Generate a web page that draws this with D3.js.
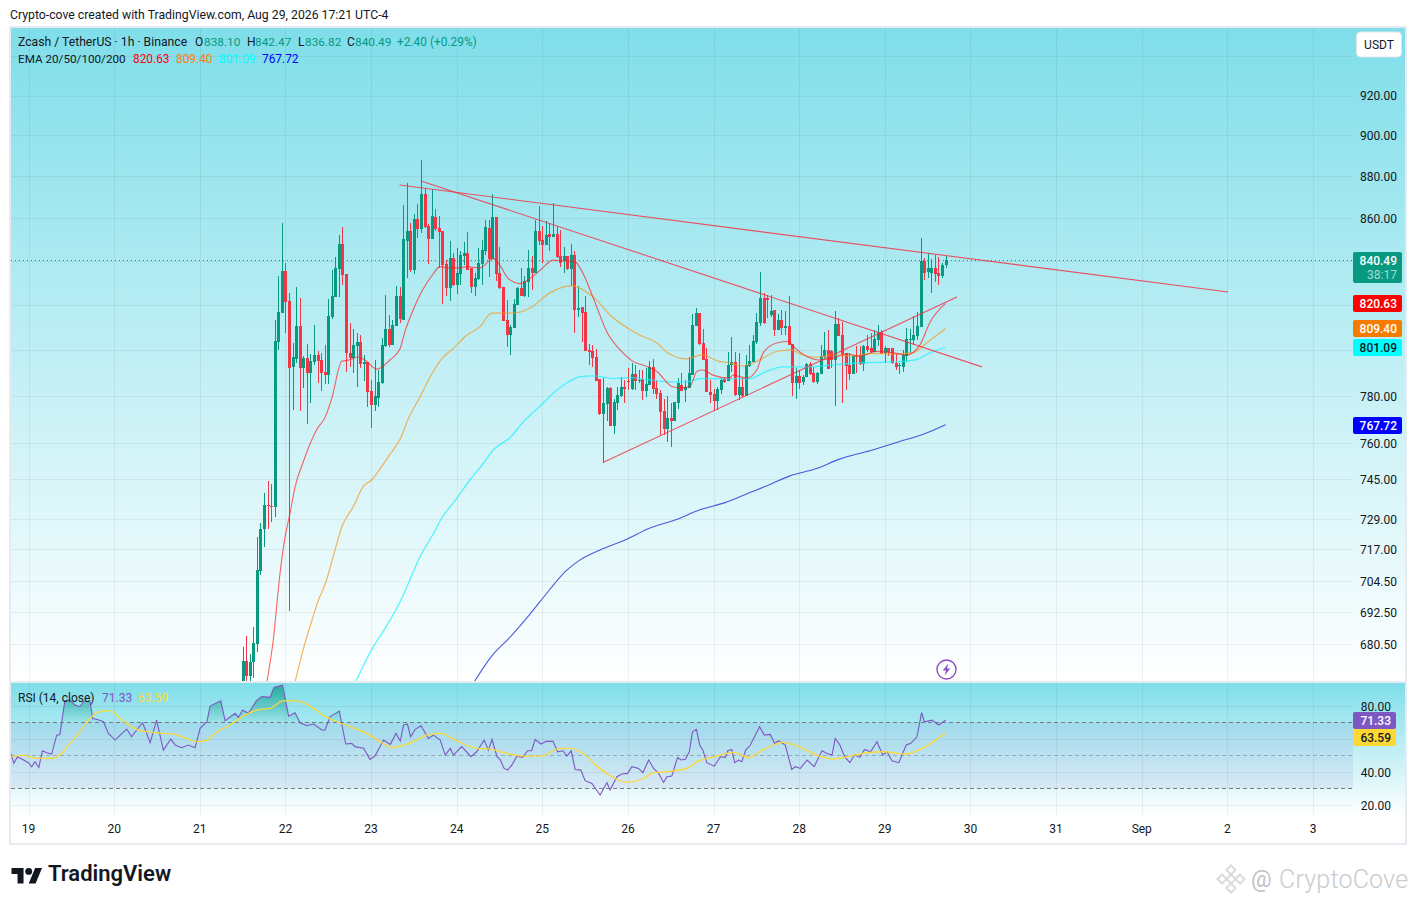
<!DOCTYPE html>
<html><head><meta charset="utf-8">
<script src="https://cdn.jsdelivr.net/npm/d3@7"></script>
<style>
html,body{margin:0;padding:0;background:#fff;overflow:hidden}
svg{display:block}
text{font-family:"Roboto","Noto Sans",sans-serif;fill:#131722}
.axis path{display:none}.axis line{display:none}
.axis text{font-size:12px;fill:#131722}
</style></head><body>
<div id="chart"></div>
<script>
// ---------- data ----------
const firstHour = 60; // hours after Aug 19 00:00 of the first visible candle
const opens = [660,674.3,668.5,673.8,680.6,708.5,724.8,734.6,734.2,733.9,803.6,816.4,835.5,821.7,792.5,796,810.5,792,796.4,789.9,794.6,797.7,795.5,790.3,789.1,814.5,823.5,836.4,848,834.1,798.6,796.4,801.6,803.4,793.8,794.6,782,776.1,779,785.5,801.6,809.2,802.1,810.5,824,813.2,849.4,854.1,835.9,859.7,855,871.6,856.4,850.3,860.6,855.5,854.1,838.7,827.6,841.4,829,834.1,842.4,843.8,836.8,828.1,831.8,838.7,844.7,855.5,841,860.6,834.4,828.1,813.2,806.5,809.7,819.9,827.6,824,830.4,836.8,834.5,854.1,849.9,847.5,852.7,851.3,852.7,842.4,840,842.4,836.4,842.8,817.6,818.8,816.7,799.9,799.4,796.8,787.2,772.3,776.5,783.3,767.3,776.9,779.8,783.7,786.5,782.9,789.4,786.5,787.2,782,784.6,792.5,783.3,781,773.5,766,770.6,769.4,776.9,784.6,782.4,783.3,789,810.5,816.3,803,795.9,781.5,780.6,777.7,782.4,787.1,786.3,793.3,794.5,780.2,783.7,780,792.9,794.6,803.4,811.9,823.1,823.1,815.4,817.6,808.8,813.2,809.6,810.5,802.4,785.6,788.5,785.9,788.3,793.6,789.9,785.9,789.4,796.8,799.9,799.6,795.5,811.4,806.5,798.6,793.3,789.4,797.2,797.2,793.8,801.6,800.7,799,804.3,807.8,798.6,800.7,800.7,794.2,792.9,792.5,797.2,804.3,804.3,806.1,810,840,834.7,834.5,836.8,834.5,833.2,838.1];
const highs = [679.5,683.5,676.6,687,721.9,727.2,739.3,744.1,743.2,813.2,833.2,857.7,839,825.2,802.8,828,822.9,797.2,802.4,798,810.8,799.4,798.4,802.1,822.6,835.9,842,852.2,855.8,834.1,811.7,809.2,807.3,806.5,797.7,794.6,786.8,795.5,791,805.2,824.4,815.4,813.2,828.6,828.1,866.3,876.7,857.7,861.9,866.8,887.8,874.3,857.3,874,864.4,860.8,854.1,840.5,849.4,843.6,846,844.7,848.9,853.6,836.8,834.4,846.1,849.9,859.2,859.2,871.6,860.6,846.6,828.1,822.1,811,822.6,828,836.7,832.9,845.2,842.4,859.2,865.9,856.1,858.9,857.7,867.2,856.1,854.5,846.7,842.4,847.8,844.7,828.3,818.8,824,802.5,802.1,800.1,787.2,787.8,783.9,783.9,778.8,783.9,788.2,787,791.8,794,793.3,791.1,791.1,791.8,795.1,795.9,786.8,782.4,778.5,779.8,776.7,777.3,787.8,789.8,786.8,796.9,815.9,818.5,816.3,809.2,800.7,786.8,782.9,783.9,787.5,788.3,798.8,805.5,799.1,798.4,787.5,797.7,802.1,806.5,816.3,834.7,825.2,824.4,824.4,817.6,815.9,817.6,817.2,824,802.4,791.9,791.2,789,794.1,794.8,792.6,790.4,802.1,808,808.8,799.9,817.2,813.9,812.2,798.6,798.4,797.7,801.6,801.6,802.1,806.5,807.2,808.8,811,808.8,801.6,800.7,800.7,798.1,794.1,799.9,809.6,809.3,815,816.9,850.8,841.4,843.6,841,842.8,842,839,842.47];
const lows = [655,664,666,668,677.5,706.8,717.9,724.8,727.8,729.8,799.9,816.2,807.3,693,774,794,773.7,783.3,767.8,777.1,793.3,785.4,782,785.1,785.1,813.6,823.5,823.7,829,790.3,792.6,789.7,783.8,792,786.4,775.3,766.1,773.6,775.3,785.1,801.3,801,802.1,810.5,811.7,813.2,832.2,835,834.1,850.8,853,855.3,838.7,850.3,854.1,836.8,820.3,824,821.7,828.3,824.9,829,838.2,835.9,825.4,824,831.3,829,842.8,832.5,841,830.9,827.2,812.7,801.4,797.7,809.7,819.9,824,823.7,823.4,826.7,834.4,847.5,839,847.5,844.7,851.3,841.3,837.1,834.4,835.9,828.6,807.3,814.7,803.6,799.4,793.3,792.6,786.4,771.9,751.6,769.1,767.3,763.6,774,779.5,776.7,782.4,782.4,782.4,785.3,778.1,779.5,784.6,780.9,778.8,763.3,763.3,760.5,758.2,769.4,774.4,782,777.2,783.3,789,810.5,802.1,795.7,781.5,776.7,773.3,774,780.6,785.6,786.2,790.4,779.8,778.1,779.5,780,792.6,794.5,802.5,810.5,811.3,814,814.7,806.1,808.8,806.5,806.5,802.1,780,778.8,782.8,784.6,788.3,789,785.3,785,789.4,796.4,791.6,791.9,775.6,806.1,777,782.4,786.7,789.4,789.7,793.3,790.7,799.1,798.7,799,801.6,798.1,794.1,797.2,793.8,791.2,789.4,790.3,794.6,798.7,802.1,804.3,810,831.3,832.2,825.4,830.4,829,832.2,836.82];
const closes = [674,668.5,673.9,680.7,708.8,724.9,734.6,734.2,733.8,803.8,816.6,835.5,821.2,792.2,796.8,810.5,792,796.4,789.9,795,797.7,795,789.9,789,815,824,836.8,848,833.6,798.6,796.4,802.1,803.4,793.8,794.6,781.6,776.1,779.9,785.9,802.1,809.2,802.1,811,824,813.6,850.3,854.1,835.9,859.7,855,871.6,855.9,850.3,861.1,855,853.6,838.2,827.6,841.4,829,834.5,842.8,843.8,835.9,828.1,832.2,839.1,845.2,855.9,841,860.6,834,827.6,812.7,806.5,810.1,820.3,827.6,824,830.9,836.8,834.5,854.1,849.4,847.5,852.2,851.3,852.7,841.9,839.1,842.4,836.4,842.8,817.6,818.5,816.3,799.4,799,796.4,786.4,772.3,776.9,783.3,767.3,777.3,780.2,783.7,782.9,786,789.4,786.5,786.8,782,785,792.5,782.9,780.6,773.1,766,770.6,769.4,777.3,785.4,782,783.7,789.8,811,816.3,802.5,795.7,781.5,780.2,777.7,782.9,786.8,786,793.3,794.5,780.2,783.7,780,793.3,795.1,803.8,812.3,823.1,811.9,822.1,817.2,808.8,813.2,809.6,810.5,802.1,785.6,788.5,785.6,788.3,793.6,789.4,785.9,789.7,797.2,799.9,791.6,795.5,811.4,806.1,798.1,792.9,789.4,797.2,796.8,793.8,801.6,799.9,799,804.7,807.8,798.1,800.7,799,794.2,792.5,793.2,797.7,804.7,804.7,806.5,810.5,840,834.5,836.8,836.8,834.1,833.2,838.2,840.49];

const ema20Hours = [66.8,68.6,70.5,71.9,73.3,74.7,77,80.8,83.1,85,87.8,90.1,92.4,94.3,97.6,101.3,104.1,105.5,107.8,110.2,113.4,115.3,118.1,120.9,122.8,126.5,130.2,132.1,134.4,137.8,140.6,143.8,147,149.4,153.2,155.4,158.2,162.4,165.8,169.4,173.3,176.1,180.3,182.6,185.4,187.3,189,191.8,196.6,197.4,201.3,204.1,205.9,209.7,212.9,214.8,218.1,221.8,225.5,229.3,233,237.7,242.3,246.1,249.8,252.6,257];
const ema20Values = [666.4,682,707.6,721.7,731.3,741.8,752.2,765.7,770.8,778.9,794.9,795.6,796.8,795.5,791.5,795.5,800.3,808,817.7,826,834,837.4,836.8,836.8,837.4,836.8,841,838.1,832,829.6,832,836.3,840.4,840.1,839.6,834.3,823.4,806.9,799.9,794.9,792.7,790.5,784,783.4,784,790.5,791.1,788.9,787.6,788.9,787.6,791.1,798.6,803,803.6,800.8,797,795.5,796.4,798.1,797.3,799.2,798.6,797.7,802,812,820.63];
const ema50Hours = [74.7,77,79.8,81.2,83.1,85.9,87.8,91,93.8,96.2,99,101.3,104.1,106.4,109.7,112.5,115.8,119.1,122.8,126.5,129.8,135.8,140.6,146.2,152.2,155.4,159.2,163,166.6,171.4,176.1,179.2,184.5,188.7,193.8,196.6,199.4,203.1,205.9,209.7,213.4,217.1,220.9,225.5,231.1,236.8,242.3,248,251.7,257];
const ema50Values = [666.4,678.5,691,696.9,703.1,716.6,725.7,733.8,742,744.8,750.3,755.3,761.5,770,779.5,788,796,800.6,806.4,810.1,816.3,816.3,818.6,825.5,828.7,826.8,822.2,815.4,810.9,806.4,803,798.6,796,797.7,794.8,794.2,792.9,794.2,796.4,799.2,799.9,797.7,796.7,797.7,797.3,798.4,798.1,798.7,803,809.4];
const ema100Hours = [91.7,95.7,100.4,104.1,106.9,109.7,113.5,115.8,120,123.7,127.5,130.3,134.9,138.6,143.4,147,150.8,154.6,158.2,163.8,168.6,173.3,178.9,184.5,188.2,193.8,202.2,205.9,211.5,219.1,225.5,233.9,242.3,248.9,252.6,257];
const ema100Values = [666.4,677.3,687.4,696.4,705,713.9,723.1,729.2,737.2,744.7,751.6,757.2,762.2,768.7,775.6,781,785.5,788.2,788.6,787.4,787.8,787,786,786,787.4,787.3,787.4,789.9,792.5,792.5,793.4,794.3,794.7,795.7,798.6,801.09];
const ema200Hours = [124.9,129.8,134.9,140.5,146.1,150.4,154.6,160.2,167.2,174.2,181.2,188.2,195.2,202.2,207.8,213.4,220.4,227.5,235.8,244.3,251.3,257];
const ema200Values = [666.4,676,683,691.7,701.2,708.1,712.7,716.6,720.5,725.3,728.5,732.6,735.5,739.6,742.9,746.4,749.2,753.4,756.8,760.7,764,767.72];

const rsiHours = [-5.1,-4.1,-3.1,-1.4,0,0.9,1.8,2.9,3.9,5.1,6.5,7.9,8.8,9.8,10.2,11.6,13,14.4,15.4,17.2,18,19.3,21,22.4,24.3,25.7,27.5,28.9,30.3,32,34.1,35.9,37.8,39.9,41.1,42.9,44.8,46.7,48.1,50,50.9,53.9,55.1,57.9,58.8,60,61.6,64,65.4,67.7,68.8,71.2,72.9,74.7,76.1,78,79.9,82.2,83.1,84.5,87.1,88.9,90.6,91.5,93.9,95.7,97.1,99.5,101.4,103,104.2,105.1,106.2,107.1,108.4,110,112.1,113.5,115.4,116.8,118.2,119.1,121.4,124,125.6,127.7,128.9,129.9,131.3,132.2,133.3,134.3,135.5,136.9,138.5,139.9,141,142,143.6,145.1,147,148.3,149.8,150.9,152.1,153.2,154.8,156,157.9,160.2,162.1,163,164.9,166.3,167.9,169.1,171,172.2,173.8,175.2,176.6,178,178.9,180.3,181.9,182.9,184.1,185.2,186.1,187.2,188.1,189,190.1,192.2,193.9,195.3,196,197.1,197.9,199,199.9,201,202.3,204.9,206.2,207.9,209.1,210.2,212.1,213.9,214.9,216.3,218.2,220.2,222.4,223.8,225.2,226.1,227.4,228.7,230.2,231.5,233,234.3,236,237.8,239.4,240.6,242,243.9,246,247.3,249,250.3,251.1,253.2,255.1,257];
const rsiValues = [52.2,45.2,49.2,47.2,45.6,43.1,46.2,42.7,52.8,51.6,50.8,62.3,62.7,77.5,83.1,83.5,80.5,79.5,82.5,83.1,72.4,71.8,70.4,63.3,59.3,62.3,66,61.3,65.4,69.8,57.7,71.4,53.2,59.9,56.3,54.7,56.3,54.7,66.4,70.4,79.9,83.1,71,75.5,73,77.5,75.5,83.5,85.6,85.2,91.2,92.6,73.8,75.9,69.8,68,69,65.4,65.4,73.4,76.9,56.9,57.3,55.3,54.3,47.6,49.6,59.3,56.7,63.3,58.7,68.4,69,61.3,65.8,68,60.3,62.3,59.3,50.2,54.3,50.2,55.3,49.2,52.2,59.3,53.2,59.7,49.2,47.4,42.1,41.1,44.2,49.6,48.8,52.8,52.8,59.7,56.9,58.5,58.5,52.2,52.8,49.6,52.8,41.5,41.1,34.7,33,26,33.4,29,37.1,38.7,39.1,43.2,42.1,39.5,47.2,42.1,39.1,33.6,37.1,37.5,48.6,47.2,47.6,52.2,64.3,65.8,56.3,53.2,45.6,43.5,49.2,48.8,52.8,53.6,45.6,47.2,46.2,53.2,56.3,67.4,62.3,62.7,57.3,58.9,56.3,41.5,43.2,42.1,47.2,43.2,52.8,51.2,50.2,60.3,56.3,49.2,45.6,50.2,48.8,53.6,52.2,58.3,50.2,52.2,46.8,45.6,56.3,57.3,61.3,75.9,70.4,71.4,68.4,71.33];
const rsiMaHours = [-5.1,-1.4,2.3,7,8.8,11.6,14.4,16.8,20,22.9,25.7,30.3,35.9,40.6,44.3,47.1,50,52.8,56.5,60.2,64,67.7,71.4,75.2,78.9,83.6,86.4,90.1,93.9,97.6,101.8,104.2,107.9,111.6,115.4,120,125.6,129.4,134.1,138.7,143.9,148.1,151.8,155.6,159.3,163,167.7,172.4,175.2,178.9,184.5,187.4,193,197.6,201.8,206,211.6,215.9,221.5,225.6,230.4,235,239.7,245.3,249,254.6,257];
const rsiMaValues = [49.2,50,48.2,48.2,50.2,57.3,64.3,71.4,76.5,77.1,72.4,65.8,63.7,62.9,60.3,58.3,59.3,64.3,68.4,73.8,77.5,78.5,83.1,83.1,79.9,73,70.4,67.4,64.3,59.7,54.9,55.7,58.3,62.3,63.3,58.9,54.3,53.8,51.2,49.6,49.6,53.8,54.4,50.8,43.5,37.7,33.8,36,39.5,40.1,42.1,46.2,49.6,51.8,48.8,53.6,57.9,55.3,49.6,47.8,49.6,51.6,52.2,50.8,52.8,59.7,63.59];

const trendFromHours = [104,110,161.3];
const trendFromPrices = [875.8,877.8,752.1];
const trendToHours = [336.2,267.2,260.2];
const trendToPrices = [825.8,792.5,823.5];

const priceTicks = [940,920,900,880,860,840,820,800,780,760,745,729,717,704.5,692.5,680.5];
const priceTicksHidden = [940,840,820,800];
const rsiTicks = [80,60,40,20];
const rsiTicksHidden = [60];
const dayLabels = ["19","20","21","22","23","24","25","26","27","28","29","30","31","Sep","2","3"];

const lastValues = {ema20:"820.63",ema50:"809.40",ema100:"801.09",ema200:"767.72"};
const green="#089981",red="#f23645";

// ---------- frame ----------
const W=1416,H=904,L=11,R=1405,PR=1353,T=28,PB=681,RT=683,RB=815,FB=843;
const svg=d3.select("#chart").append("svg").attr("width",W).attr("height",H);
const defs=svg.append("defs");
function grad(id,stops,y1,y2){const g=defs.append("linearGradient").attr("id",id).attr("gradientUnits","userSpaceOnUse").attr("x1",0).attr("x2",0).attr("y1",y1).attr("y2",y2);
 stops.forEach(s=>g.append("stop").attr("offset",s[0]).attr("stop-color",s[1]).attr("stop-opacity",s[2]==null?1:s[2]));}
grad("bgMain",[[0,"#7fdeea"],[1,"#ffffff"]],T,PB);
grad("bgRsi",[[0,"#7fdeea"],[1,"#ffffff"]],RT,RB);
defs.append("clipPath").attr("id","clipMain").append("rect").attr("x",L).attr("y",T).attr("width",PR-L).attr("height",PB-T);
defs.append("clipPath").attr("id","clipRsi").append("rect").attr("x",L).attr("y",RT).attr("width",PR-L).attr("height",RB-RT);

svg.append("text").attr("x",10).attr("y",18.5).style("font-size","12.25px").text("Crypto-cove created with TradingView.com, Aug 29, 2026 17:21 UTC-4");
svg.append("rect").attr("x",10).attr("y",27).attr("width",1396).attr("height",FB-27+1).attr("fill","#fff").attr("stroke","#e0e3eb").attr("stroke-width",1.5);
svg.append("rect").attr("x",L).attr("y",T).attr("width",R-L).attr("height",PB-T).attr("fill","url(#bgMain)");
svg.append("rect").attr("x",L).attr("y",RT).attr("width",R-L).attr("height",RB-RT).attr("fill","url(#bgRsi)");
svg.append("rect").attr("x",L).attr("y",PB).attr("width",R-L).attr("height",RT-PB).attr("fill","#e8ebef");

// ---------- scales ----------
const x=d3.scaleLinear().domain([0,257]).range([28.5,945.5]);
const y=d3.scaleLog().domain([920,680.5]).range([95.5,644]);
const yR=d3.scaleLinear().domain([70,30]).range([722.4,788.4]);
const dayHours=dayLabels.map((d,i)=>i*24);

// ---------- grid ----------
const gridColor="#2a2e39",gridOp=.07;
const gGrid=svg.append("g");
dayHours.forEach(h=>{gGrid.append("line").attr("x1",Math.round(x(h))+.5).attr("x2",Math.round(x(h))+.5).attr("y1",T).attr("y2",PB).attr("stroke",gridColor).attr("stroke-opacity",gridOp);
 gGrid.append("line").attr("x1",Math.round(x(h))+.5).attr("x2",Math.round(x(h))+.5).attr("y1",RT).attr("y2",RB).attr("stroke",gridColor).attr("stroke-opacity",gridOp);});
priceTicks.forEach(p=>gGrid.append("line").attr("x1",L).attr("x2",PR).attr("y1",Math.round(y(p))+.5).attr("y2",Math.round(y(p))+.5).attr("stroke",gridColor).attr("stroke-opacity",gridOp));
rsiTicks.forEach(p=>gGrid.append("line").attr("x1",L).attr("x2",PR).attr("y1",Math.round(yR(p))+.5).attr("y2",Math.round(yR(p))+.5).attr("stroke",gridColor).attr("stroke-opacity",gridOp));

// ---------- candles ----------
const main=svg.append("g").attr("clip-path","url(#clipMain)");
main.append("line").attr("x1",L).attr("x2",PR).attr("y1",Math.round(y(closes[closes.length-1]))+.5).attr("y2",Math.round(y(closes[closes.length-1]))+.5).attr("stroke",green).attr("stroke-dasharray","1 3");
const idx=d3.range(opens.length);
const col=i=>closes[i]>=opens[i]?green:red;
const cg=main.append("g").attr("shape-rendering","crispEdges");
cg.selectAll("line").data(idx).join("line")
 .attr("x1",i=>Math.round(x(firstHour+i))+.5).attr("x2",i=>Math.round(x(firstHour+i))+.5)
 .attr("y1",i=>y(highs[i])).attr("y2",i=>y(lows[i])).attr("stroke",col);
cg.selectAll("rect").data(idx).join("rect")
 .attr("x",i=>Math.round(x(firstHour+i))-1).attr("width",3)
 .attr("y",i=>y(Math.max(opens[i],closes[i])))
 .attr("height",i=>Math.max(1,Math.abs(y(opens[i])-y(closes[i])))).attr("fill",col);

// ---------- EMAs ----------
const lineP=d3.line().x(d=>x(d[0])).y(d=>y(d[1])).curve(d3.curveMonotoneX);
[[ema200Hours,ema200Values,"#2c3fd6",.85,1.1],[ema100Hours,ema100Values,"#22f0ff",.75,1.3],[ema50Hours,ema50Values,"#f59a23",.72,1.2],[ema20Hours,ema20Values,"#ff1a1a",.68,1.1]].forEach(e=>{
 main.append("path").attr("d",lineP(d3.zip(e[0],e[1]))).attr("fill","none").attr("stroke",e[2]).attr("stroke-opacity",e[3]).attr("stroke-width",e[4]);
});
// ---------- trend lines ----------
trendFromHours.forEach((h,i)=>{
 main.append("line").attr("x1",x(h)).attr("y1",y(trendFromPrices[i])).attr("x2",x(trendToHours[i])).attr("y2",y(trendToPrices[i])).attr("stroke",red).attr("stroke-opacity",.85).attr("stroke-width",1.1);
});

// ---------- RSI ----------
const rsiG=svg.append("g").attr("clip-path","url(#clipRsi)");
rsiG.append("rect").attr("x",L).attr("width",PR-L).attr("y",yR(70)).attr("height",yR(30)-yR(70)).attr("fill","#6a5fc2").attr("fill-opacity",.1);
[[70,1],[50,.55],[30,1]].forEach(l=>rsiG.append("line").attr("x1",L).attr("x2",PR).attr("y1",Math.round(yR(l[0]))+.5).attr("y2",Math.round(yR(l[0]))+.5).attr("stroke","#787b86").attr("stroke-opacity",l[1]).attr("stroke-dasharray","4 3"));
const rsiPts=d3.zip(rsiHours,rsiValues);
grad("obFill",[[0,"#089981",.75],[1,"#089981",.05]],yR(93),yR(70));
defs.append("clipPath").attr("id","clipOb").append("rect").attr("x",L).attr("y",RT).attr("width",PR-L).attr("height",yR(70)-RT);
rsiG.append("path").attr("clip-path","url(#clipOb)").attr("d",d3.area().x(d=>x(d[0])).y0(yR(70)).y1(d=>yR(d[1]))(rsiPts)).attr("fill","url(#obFill)");
rsiG.append("path").attr("d",d3.line().x(d=>x(d[0])).y(d=>yR(d[1]))(rsiPts)).attr("fill","none").attr("stroke","#7e57c2").attr("stroke-width",1.1);
rsiG.append("path").attr("d",d3.line().x(d=>x(d[0])).y(d=>yR(d[1])).curve(d3.curveMonotoneX)(d3.zip(rsiMaHours,rsiMaValues))).attr("fill","none").attr("stroke","#fdd835").attr("stroke-width",1.3);

// ---------- axes ----------
const fmt=d3.format(".2f");
svg.append("g").attr("class","axis").attr("transform","translate(1397,0.6)")
 .call(d3.axisRight(y).tickValues(priceTicks.filter(p=>!priceTicksHidden.includes(p))).tickSize(0).tickPadding(0).tickFormat(fmt)).selectAll("text").attr("text-anchor","end");
svg.append("g").attr("class","axis").attr("transform","translate(1391,0.4)")
 .call(d3.axisRight(yR).tickValues(rsiTicks.filter(p=>!rsiTicksHidden.includes(p))).tickSize(0).tickPadding(0).tickFormat(fmt)).selectAll("text").attr("text-anchor","end");
svg.append("g").attr("class","axis").attr("transform","translate(-0.5,824)")
 .call(d3.axisBottom(x).tickValues(dayHours).tickSize(0).tickPadding(0).tickFormat((d,i)=>dayLabels[i]));

// ---------- value tags ----------
function tag(val,bg,fg,x0,x1,yc,right,extra){
 const top=Math.round(yc-8), h=extra?31:17;
 svg.append("rect").attr("x",x0).attr("y",top).attr("width",x1-x0).attr("height",h).attr("rx",2).attr("fill",bg);
 svg.append("text").attr("x",right).attr("y",top+12.8).attr("text-anchor","end").style("font-size","12px").style("fill",fg).style("font-weight",500).text(val);
 if(extra) svg.append("text").attr("x",right).attr("y",top+27).attr("text-anchor","end").style("font-size","12px").style("fill","#a7dcd2").text(extra);
}
tag(d3.format(".2f")(closes[closes.length-1]),green,"#fff",1353,1402,y(closes[closes.length-1]),1397,"38:17");
tag(lastValues.ema20,"#ff0000","#fff",1353,1402,y(820.63),1397);
tag(lastValues.ema50,"#f57c00","#fff",1353,1402,y(809.40),1397);
tag(lastValues.ema100,"#00ffff","#131722",1353,1402,y(801.09),1397);
tag(lastValues.ema200,"#0000ff","#fff",1353,1402,y(767.72),1397);
tag("71.33","#7e57c2","#fff",1353,1396,yR(71.33),1391);
tag("63.59","#fdd835","#131722",1353,1396,yR(71.33)+16.7,1391); // pushed below the RSI tag, as in the reference

// USDT button
svg.append("rect").attr("x",1356.5).attr("y",32).attr("width",45).attr("height",25).attr("rx",4).attr("fill","#fff").attr("stroke","#e0e3eb");
svg.append("text").attr("x",1379).attr("y",48.5).attr("text-anchor","middle").style("font-size","12px").text("USDT");

// ---------- legends ----------
function seg(px,py,t,c,size){svg.append("text").attr("x",px).attr("y",py).style("font-size",(size||12)+"px").style("fill",c||"#131722").text(t);}
seg(18,46,"Zcash / TetherUS · 1h · Binance",null,12.2);
[[195,"O",204,"838.10"],[247,"H",255,"842.47"],[298,"L",305,"836.82"],[347,"C",355,"840.49"]].forEach(a=>{seg(a[0],46,a[1]);seg(a[2],46,a[3],green,11.8);});
seg(397,46,"+2.40 (+0.29%)",green,11.9);
seg(18,63,"EMA 20/50/100/200",null,11.7);
seg(133,63,lastValues.ema20,"#ff0000",11.9);seg(176,63,lastValues.ema50,"#ff8000",11.9);seg(219,63,lastValues.ema100,"#00ffff",11.9);seg(262,63,lastValues.ema200,"#0000ff",11.9);
seg(18,702,"RSI (14, close)");seg(102,702,"71.33","#7e57c2");seg(138,702,"63.59","#fdd835");

// lightning badge
const bolt=svg.append("g").attr("transform","translate(946.5,669.5)");
bolt.append("circle").attr("r",9.5).attr("fill","none").attr("stroke","#8e4ec6").attr("stroke-width",1.4);
bolt.append("path").attr("d","M1.8,-6 L-3.8,1 L-0.5,1 L-1.8,6 L3.8,-1 L0.5,-1 Z").attr("fill","#8e4ec6");

// ---------- footer ----------
const lg=svg.append("g").attr("transform","translate(11.5,864.5) scale(.86)").attr("fill","#131722");
lg.append("path").attr("d","M14 22H7V11H0V4h14v18zM28 22h-8l7.5-18h8L28 22z");
lg.append("circle").attr("cx",20).attr("cy",8).attr("r",4);
svg.append("text").attr("x",48).attr("y",881).style("font-size","22px").style("font-weight",600).text("TradingView");

const wm=svg.append("g").attr("transform","translate(1231,879)").attr("fill","none").attr("stroke","#d9dbdf").attr("stroke-width",2);
[[0,-9],[-9,0],[9,0],[0,9],[0,0]].forEach(c=>wm.append("path").attr("transform",`translate(${c[0]},${c[1]})`).attr("d","M0,-4.5 L4.5,0 L0,4.5 L-4.5,0 Z"));
svg.append("text").attr("x",1251).attr("y",887).style("font-size","23px").style("fill","#bfc1c6").text("@");
svg.append("text").attr("x",1279).attr("y",888).style("font-size","25px").style("font-weight",300).style("fill","#c9cbd0").style("letter-spacing","0.2px").text("CryptoCove");
</script></body></html>
